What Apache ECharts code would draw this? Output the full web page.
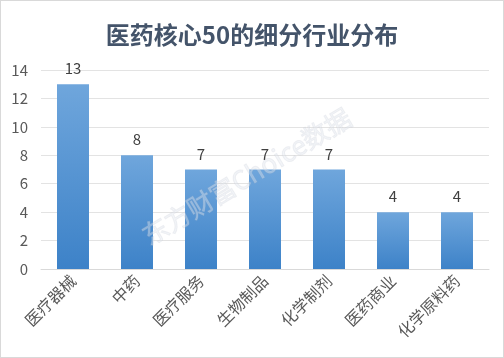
<!DOCTYPE html>
<html>
<head>
<meta charset="utf-8">
<script src="https://cdn.jsdelivr.net/npm/echarts@6/dist/echarts.min.js"></script>
<style>
  html, body { margin: 0; padding: 0; background: #fff; }
  #main { width: 502px; height: 356px; border: 1px solid #d9d9d9; }
</style>
</head>
<body>
<div id="main"></div>
<script>
// 数据
let categories = ['医疗器械', '中药', '医疗服务', '生物制品', '化学制剂', '医药商业', '化学原料药'];
let counts = [13, 8, 7, 7, 7, 4, 4];
let titleText = '医药核心50的细分行业分布';

let chart = echarts.init(document.getElementById('main'));
let font = '"Microsoft YaHei", "Noto Sans CJK SC", sans-serif';

chart.setOption({
  animation: false,
  title: {
    text: titleText,
    left: 'center',
    top: 17,
    textStyle: { fontSize: 24, fontWeight: 'bold', color: '#44546a', fontFamily: font }
  },
  grid: { left: 40, right: 14, top: 69, bottom: 88 },
  xAxis: {
    type: 'category',
    data: categories,
    axisLine: { lineStyle: { color: '#d9d9d9' } },
    axisTick: { show: false },
    axisLabel: { rotate: 45, color: '#595959', fontSize: 16, fontFamily: font, margin: 9 }
  },
  yAxis: {
    type: 'value',
    min: 0,
    max: 14,
    interval: 2,
    axisLine: { show: false },
    axisTick: { show: false },
    axisLabel: { color: '#595959', fontSize: 15, fontFamily: font, margin: 13 },
    splitLine: { lineStyle: { color: '#e3e3e3' } }
  },
  series: [{
    type: 'bar',
    data: counts,
    barWidth: 32,
    itemStyle: {
      color: new echarts.graphic.LinearGradient(0, 0, 0, 1, [
        { offset: 0, color: '#6fa6dc' },
        { offset: 1, color: '#3d82c8' }
      ])
    },
    label: { show: true, position: 'top', distance: 8, color: '#404040', fontSize: 15, fontFamily: font }
  }],
  graphic: [{
    type: 'text',
    x: 150,
    y: 248,
    rotation: Math.PI / 180 * 31,
    style: {
      text: '东方财富Choice数据',
      fontSize: 26,
      fontFamily: font,
      textAlign: 'left',
      textVerticalAlign: 'bottom',
      fill: 'rgba(225,230,238,0.4)',
      stroke: 'rgba(190,196,206,0.25)',
      lineWidth: 1
    },
    z: 100
  }]
});
</script>
</body>
</html>
